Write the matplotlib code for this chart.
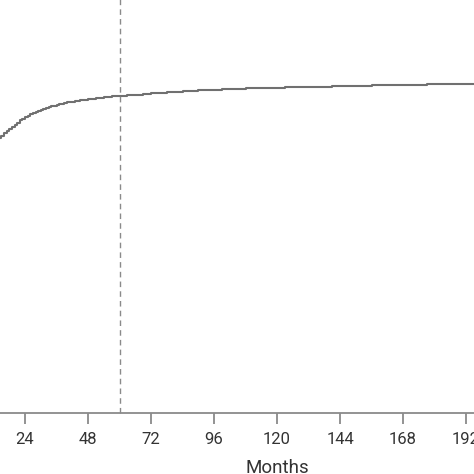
import matplotlib
matplotlib.use("Agg")
import matplotlib.pyplot as plt

plt.rcParams['font.family'] = ['Roboto', 'DejaVu Sans']

# cumulative curve (%), monthly where it still climbs, every 3 months later
months = [12, 13, 14, 15, 16, 17, 18, 19, 20, 21, 22, 23, 24, 25, 26, 27, 28, 29,
          30, 31, 32, 33, 34, 35, 36, 37, 38, 39, 40, 41, 42, 43, 44, 45, 46, 47,
          48, 49, 50, 51, 52, 53, 54, 55, 56, 57, 58, 59, 60,
          63, 66, 69, 72, 75, 78, 81, 84, 87, 90, 93, 96, 99, 102, 105, 108, 111,
          114, 117, 120, 123, 126, 129, 132, 135, 138, 141, 144, 147, 150, 153,
          156, 159, 162, 165, 168, 171, 174, 177, 180, 183, 186, 189, 192, 195,
          198, 201, 204]
values = [77.6, 78.2, 78.7, 79.2, 79.9, 80.6, 81.2, 81.8, 82.4, 83.0, 83.6, 84.1,
          84.5, 84.9, 85.3, 85.7, 86.0, 86.3, 86.6, 86.9, 87.1, 87.4, 87.6, 87.8,
          88.0, 88.2, 88.4, 88.6, 88.8, 88.9, 89.0, 89.1, 89.2, 89.3, 89.4, 89.5,
          89.6, 89.7, 89.8, 89.9, 90.0, 90.1, 90.2, 90.3, 90.4, 90.5, 90.5, 90.6,
          90.7,
          90.85, 91.0, 91.15, 91.3, 91.45, 91.6, 91.75, 91.9, 92.05, 92.2, 92.3,
          92.4, 92.5, 92.6, 92.68, 92.75, 92.82, 92.88, 92.93, 92.98, 93.02,
          93.06, 93.1, 93.16, 93.22, 93.28, 93.34, 93.4, 93.46, 93.52, 93.57,
          93.62, 93.66, 93.7, 93.74, 93.78, 93.81, 93.84, 93.87, 93.9, 93.93,
          93.95, 93.98, 94.0, 94.02, 94.05, 94.08, 94.1]

xticks = [0, 24, 48, 72, 96, 120, 144, 168, 192, 216, 240]
landmark = 60

fig = plt.figure(figsize=(4.74, 4.74), dpi=100)
# axes runs 0..240 months; only part of it shows inside the crop
ax = fig.add_axes([-38 / 474, 61 / 474, 630 / 474, 350 / 474])

ax.plot(months, values, drawstyle='steps-post', color='#707070', linewidth=1.5)
ax.axvline(landmark, ymin=0, ymax=1.3, color='#8a8a8a', linewidth=1.0,
           linestyle=(0, (4, 3)), clip_on=False)

ax.set_xlim(0, 240)
ax.set_ylim(0, 100)
ax.set_xticks(xticks)
ax.set_yticks([])

for side in ['top', 'right', 'left']:
    ax.spines[side].set_visible(False)
ax.spines['bottom'].set_color('#8a8a8a')
ax.spines['bottom'].set_linewidth(1.3)
ax.tick_params(axis='x', length=8, width=1.3, color='#8a8a8a', pad=6,
               labelsize=12, labelcolor='#333333')
ax.set_xlabel('Months', fontsize=13.5, color='#333333', labelpad=8)

fig.savefig('out.png', dpi=100)
